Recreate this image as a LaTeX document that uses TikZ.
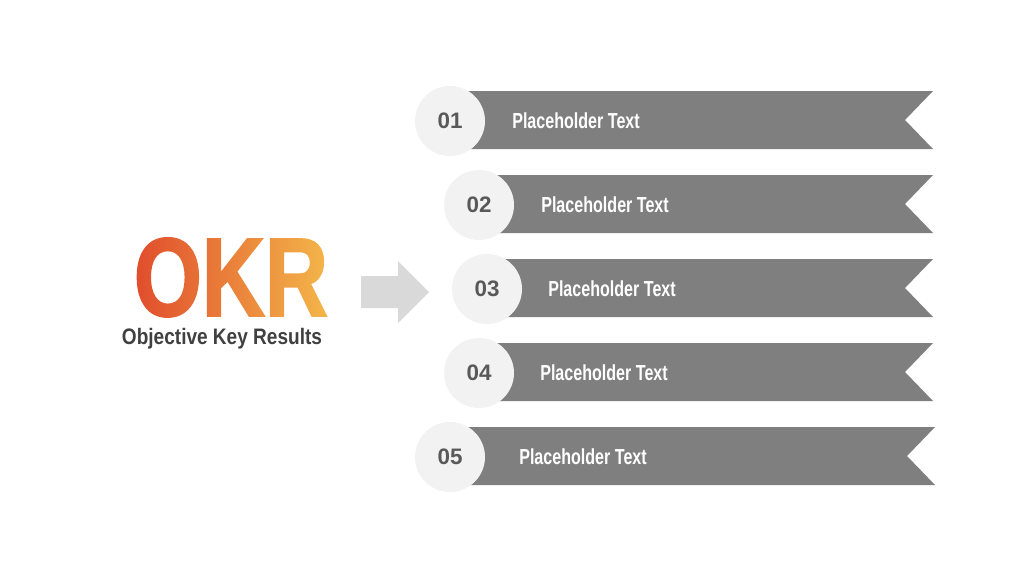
\documentclass[tikz,border=0pt]{standalone}
\usepackage{fontspec}
\newfontfamily\okrfont{Liberation Sans}[FakeStretch=0.78,FakeBold=1.5]
\newfontfamily\subfont{Liberation Sans}[FakeStretch=0.85]
\newfontfamily\itemfont{Liberation Sans}[FakeStretch=0.74]
\newfontfamily\numfont{Liberation Sans}
\definecolor{okrred}{RGB}{224,76,44}
\definecolor{okryellow}{RGB}{244,184,74}
\definecolor{bannergray}{RGB}{127,127,127}
\definecolor{discgray}{RGB}{242,242,242}
\definecolor{numgray}{RGB}{89,89,89}
\definecolor{subgray}{RGB}{64,64,64}
\definecolor{arrowgray}{RGB}{217,217,217}
\begin{document}
\begin{tikzpicture}[x=0.75pt,y=-0.75pt,
    okrtext/.style={inner sep=0pt,anchor=base,text depth=0pt,font=\okrfont\bfseries\fontsize{84}{84}\selectfont},
    banner/.style={fill=bannergray},
    disc/.style={circle,fill=discgray,minimum size=52.5pt,inner sep=0pt,text=numgray,font=\numfont\bfseries\fontsize{16.8}{18}\selectfont},
    itemtext/.style={anchor=west,inner sep=0pt,text=white,font=\itemfont\bfseries\fontsize{16.3}{18}\selectfont}]
                \fill[white] (0,0) rectangle (1024,576);
                \node[okrtext,text=black] (okr) at (231,316) {OKR};
                \shade[blend mode=screen,left color=okrred,right color=okryellow] (133,228) rectangle (332,320);
                \node[inner sep=0pt,anchor=base,text=subgray,font=\subfont\bfseries\fontsize{16.8}{18}\selectfont] (sub) at (222,344) {Objective Key Results};
                \fill[arrowgray] (361,276)--(398,276)--(398,261)--(429,292)--(398,323)--(398,308)--(361,308)--cycle;
                \fill[banner] (450,91)--(933,91)--(905,120)--(933,149)--(450,149)--cycle;
                \fill[banner] (479,175)--(933,175)--(905,204)--(933,233)--(479,233)--cycle;
                \fill[banner] (487,259)--(933,259)--(905,288)--(933,317)--(487,317)--cycle;
                \fill[banner] (479,343)--(933,343)--(905,372)--(933,401)--(479,401)--cycle;
                \fill[banner] (450,427)--(935,427)--(907,456)--(935,485)--(450,485)--cycle;
                \node[disc] (n1) at (450,121) {01};
                \node[disc] (n2) at (479,205) {02};
                \node[disc] (n3) at (487,289) {03};
                \node[disc] (n4) at (479,373) {04};
                \node[disc] (n5) at (450,457) {05};
                \node[itemtext] (t1) at (512,121) {Placeholder Text};
                \node[itemtext] (t2) at (541,205) {Placeholder Text};
                \node[itemtext] (t3) at (548,289) {Placeholder Text};
                \node[itemtext] (t4) at (540,373) {Placeholder Text};
                \node[itemtext] (t5) at (519,457) {Placeholder Text};
            \end{tikzpicture}
\end{document}
